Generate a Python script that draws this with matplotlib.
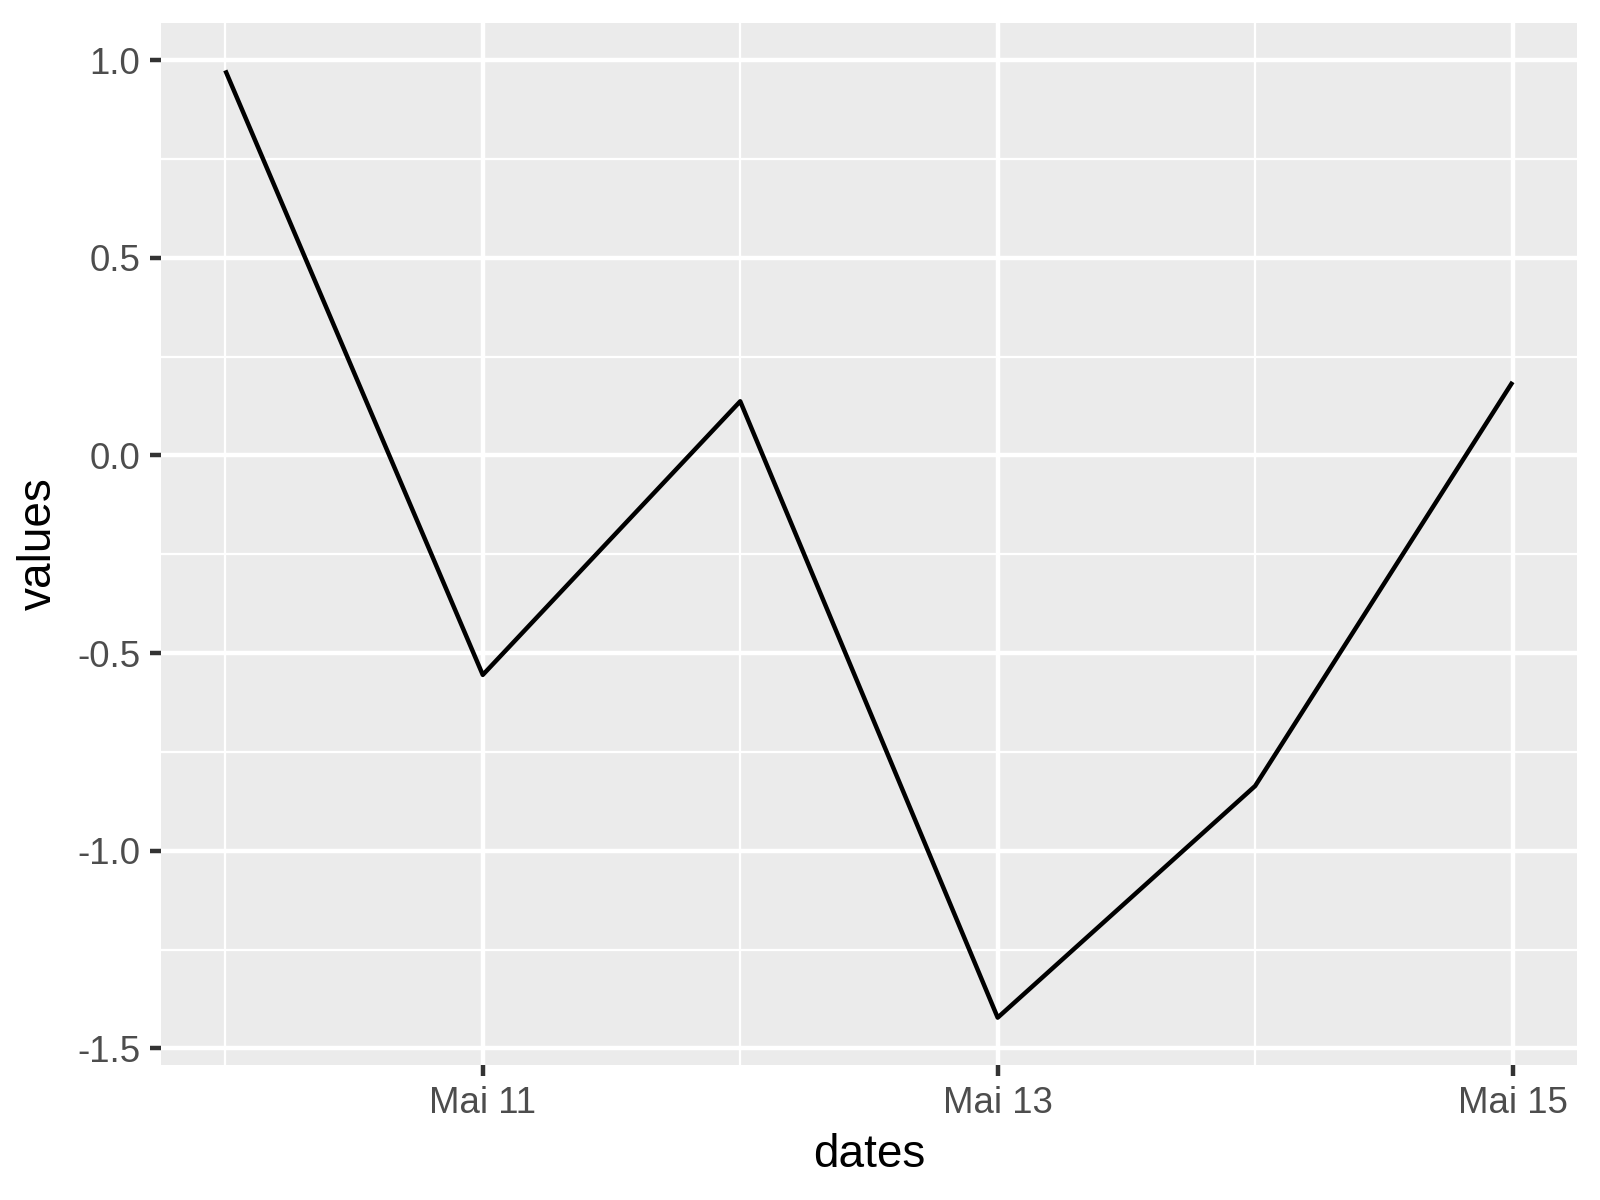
import datetime as dt

import matplotlib
matplotlib.use("Agg")
import matplotlib.dates as mdates
import matplotlib.pyplot as plt
from matplotlib.ticker import FixedLocator, FuncFormatter

# data
dates = [dt.date(2023, 5, d) for d in range(10, 16)]
values = [0.974, -0.555, 0.137, -1.422, -0.836, 0.186]
major_days = [dt.date(2023, 5, d) for d in (11, 13, 15)]
minor_days = [dt.date(2023, 5, d) for d in (10, 12, 14)]
y_ticks = [-1.5, -1.0, -0.5, 0.0, 0.5, 1.0]
y_minor = [-1.25, -0.75, -0.25, 0.25, 0.75]

plt.rcParams["font.family"] = ["Liberation Sans", "DejaVu Sans"]

fig = plt.figure(figsize=(16 / 3, 4), dpi=300)
ax = fig.add_axes([0.1006, 0.1125, 0.885, 0.8683])
ax.set_facecolor("#EBEBEB")
for s in ax.spines.values():
    s.set_visible(False)

xnum = mdates.date2num(dates)
ax.plot(xnum, values, color="black", lw=1.07, solid_capstyle="butt", zorder=3)

xspan = xnum[-1] - xnum[0]
ax.set_xlim(xnum[0] - 0.05 * xspan, xnum[-1] + 0.05 * xspan)
yspan = max(values) - min(values)
ax.set_ylim(min(values) - 0.05 * yspan, max(values) + 0.05 * yspan)

ax.xaxis.set_major_locator(FixedLocator(mdates.date2num(major_days)))
ax.xaxis.set_minor_locator(FixedLocator(mdates.date2num(minor_days)))
ax.xaxis.set_major_formatter(FuncFormatter(lambda v, p: "Mai %d" % mdates.num2date(v).day))
ax.yaxis.set_major_locator(FixedLocator(y_ticks))
ax.yaxis.set_minor_locator(FixedLocator(y_minor))
ax.yaxis.set_major_formatter(FuncFormatter(lambda v, p: ("%.1f" % v).replace("-0.0", "0.0")))

ax.grid(which="major", color="white", lw=1.07)
ax.grid(which="minor", color="white", lw=0.53)
ax.set_axisbelow(True)

ax.tick_params(which="major", length=2.75, width=1.07, color="#333333",
               labelsize=8.8, labelcolor="#4D4D4D", pad=2.2)
ax.tick_params(which="minor", length=0)

ax.set_xlabel("dates", fontsize=11, labelpad=3)
ax.set_ylabel("values", fontsize=11, labelpad=4)

fig.savefig("out.png", dpi=300)
